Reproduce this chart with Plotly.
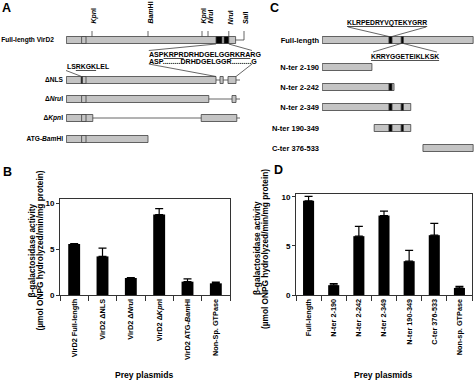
import plotly.graph_objects as go

# ---------------- data: bar charts ----------------
B_CATS = ["VirD2 Full-length", "VirD2 ΔNLS", "VirD2 Δ<i>Nru</i>I", "VirD2 Δ<i>Kpn</i>I",
          "VirD2 ATG-<i>Bam</i>HI", "Non-Sp. GTPase"]
B_VALS = [5.55, 4.2, 1.85, 8.75, 1.45, 1.27]
B_ERRS = [0.05, 0.9, 0.05, 0.65, 0.3, 0.13]

D_CATS = ["Full-length", "N-ter 2-190", "N-ter 2-242", "N-ter 2-349",
          "N-ter 190-349", "C-ter 376-533", "Non-sp. GTPase"]
D_VALS = [9.6, 1.0, 6.0, 8.1, 3.45, 6.1, 0.72]
D_ERRS = [0.45, 0.17, 1.0, 0.45, 1.1, 1.2, 0.15]

Y_TICKS = [0, 5, 10]

# ---------------- data: construct maps (residue units) ----------------
A_ROWS = ["Full-length VirD2" + "\u00a0" * 5, "ΔNLS", "Δ<i>Nru</i>I", "Δ<i>Kpn</i>I", "ATG-<i>Bam</i>HI"]
A_GREY = [[(1, 424)], [(1, 375), (385, 393), (405, 425)], [(1, 357), (415, 425)],
          [(1, 67), (338, 427)], [(1, 205)]]
A_MOTIF = [[(39, 50)], [(39, 50)], [(39, 50)], [(39, 50)], [(39, 50)]]
A_BLACK = [[(375, 390), (395, 407)], [(38, 41)], [], [], []]
A_LINKS = [[(424, 445)], [(375, 385), (393, 405), (425, 435)], [(357, 415), (425, 435)],
           [(67, 338), (427, 435)], []]
A_SITES = ["<i>Kpn</i>I", "<i>Bam</i>HI", "<i>Kpn</i>I", "<i>Nru</i>I", "<i>Nru</i>I", "<i>Sal</i>I"]
A_SITE_POS = [65, 205, 340, 355, 407, 445]
A_FULL_END = 424

C_ROWS = ["Full-length", "N-ter 2-190", "N-ter 2-242", "N-ter 2-349", "N-ter 190-349", "C-ter 376-533"]
C_GREY = [[(1, 533)], [(1, 176)], [(1, 254)], [(1, 313)], [(184, 313)], [(356, 533)]]
C_BLACK = [[(236, 247), (279, 287)], [], [(236, 247)], [(236, 247), (279, 287)],
           [(236, 247), (279, 287)], []]

# ---------------- layout constants ----------------
W, H = 474, 381
FONT = "Arial, 'Liberation Sans', Helvetica, sans-serif"
GREY = "#c4c4c4"
EDGE = "#404040"
INK = "#000000"
A_ROW_Y = [40, 80, 99, 118, 139]
C_ROW_Y = [40, 67, 87, 107, 128, 148]
BAR_H = 7


def px(x):
    return x / W


def py(y):
    return 1 - y / H


fig = go.Figure()

# ---------------- bar charts ----------------
for cats, vals, errs, xa, ya, bw in [(B_CATS, B_VALS, B_ERRS, "x", "y", 0.42),
                                      (D_CATS, D_VALS, D_ERRS, "x2", "y2", 0.44)]:
    fig.add_trace(go.Bar(
        x=cats, y=vals, width=bw, xaxis=xa, yaxis=ya,
        marker=dict(color=INK, line=dict(width=0)),
        error_y=dict(type="data", symmetric=False, array=errs, arrayminus=[0] * len(errs),
                     color=INK, thickness=1.2, width=4, visible=True),
        hoverinfo="skip"))


# ---------------- construct diagrams ----------------
def seg_bar(rows_y, segs, xa, ya, color):
    ys, xs, bases = [], [], []
    for y, sl in zip(rows_y, segs):
        for s, e in sl:
            ys.append(y)
            xs.append(e - s)
            bases.append(s)
    return go.Bar(orientation="h", y=ys, x=xs, base=bases, width=BAR_H, xaxis=xa, yaxis=ya,
                  marker=dict(color=color, line=dict(color=EDGE, width=0.8)), hoverinfo="skip")


def polyline(pairs, xa, ya, color=EDGE, w=0.8):
    xs, ys = [], []
    for pts in pairs:
        for (x, y) in pts:
            xs.append(x)
            ys.append(y)
        xs.append(None)
        ys.append(None)
    return go.Scatter(x=xs, y=ys, mode="lines", xaxis=xa, yaxis=ya,
                      line=dict(color=color, width=w), hoverinfo="skip")


# panel A links
link_pts = []
for y, ll in zip(A_ROW_Y, A_LINKS):
    for s, e in ll:
        link_pts.append([(s, y), (e, y)])
fig.add_trace(polyline(link_pts, "x3", "y3"))
fig.add_trace(seg_bar(A_ROW_Y, A_GREY, "x3", "y3", GREY))
fig.add_trace(seg_bar(A_ROW_Y, A_MOTIF, "x3", "y3", GREY))
fig.add_trace(seg_bar(A_ROW_Y, A_BLACK, "x3", "y3", INK))

# restriction site ticks
top_row = A_ROW_Y[0]
site_pts = []
for p in A_SITE_POS:
    low = top_row - BAR_H / 2 if p <= A_FULL_END else top_row
    site_pts.append([(p, low), (p, 31)])
fig.add_trace(polyline(site_pts, "x3", "y3"))

# expansion lines in A
fig.add_trace(polyline([
    [(375, 44), (207, 50.5)], [(407, 44), (465, 50.5)],
    [(207, 64), (375, 76.5)], [(465, 64), (425, 76.5)],
    [(0, 70.5), (39, 76.5)],
], "x3", "y3"))

# panel C
fig.add_trace(seg_bar(C_ROW_Y, C_GREY, "x4", "y4", GREY))
fig.add_trace(seg_bar(C_ROW_Y, C_BLACK, "x4", "y4", INK))
fig.add_trace(polyline([
    [(92, 27), (236, 36.5)], [(367, 27), (247, 36.5)],
    [(279, 43.5), (180, 52)], [(287, 43.5), (405, 52)],
], "x4", "y4"))

ann = []
bold = dict(family=FONT, color=INK, weight="bold")


def A(text, x, y, size, xref="paper", yref="paper", xanchor="center", yanchor="middle", angle=0):
    ann.append(dict(text=text, x=x, y=y, xref=xref, yref=yref, xanchor=xanchor, yanchor=yanchor,
                    textangle=angle, showarrow=False, font=dict(bold, size=size),
                    borderpad=0))


# panel letters
A("A", px(6), py(8), 12.5)
A("B", px(7), py(172), 12.5)
A("C", px(274), py(8), 12.5)
A("D", px(278), py(170), 12.5)

# site labels
for name, p in zip(A_SITES, A_SITE_POS):
    A(name, p + 4, 25, 7, xref="x3", yref="y3", yanchor="bottom", angle=-90)

# sequences
A("ASP<u>KRPR</u>DRHDGELGG<u>RKRA</u>RG", 206, 55, 7.1, xref="x3", yref="y3", xanchor="left")
A("ASP.........DRHDGELGGR..........G", 206, 61.5, 7.1, xref="x3", yref="y3", xanchor="left")
A("LS<u>RKGK</u>LEL", 0, 66, 6.9, xref="x3", yref="y3", xanchor="left")
A("<u>KLRPEDRYVQTEKYGRR</u>", 229, 23, 6.8, xref="x4", yref="y4")
A("<u>KRRYGGETEIKLKSK</u>", 293, 56, 6.8, xref="x4", yref="y4")

# axis titles
A("β-galactosidase activity", px(31.5), py(250), 8.3, angle=-90)
A("(µmol ONPG hydrolyzed/min/mg protein)", px(39.5), py(251), 8.3, angle=-90)
A("β-galactosidase activity", px(257), py(248), 8.3, angle=-90)
A("(µmol ONPG hydrolyzed/min/mg protein)", px(265), py(249), 8.3, angle=-90)
A("Prey plasmids", px(144), py(375), 8.6)
A("Prey plasmids", px(383), py(375), 8.6)

frame = dict(showline=True, linecolor="#333333", linewidth=1, mirror=True,
             showgrid=False, zeroline=False)
xcat = dict(type="category", tickangle=-90, ticks="outside", tickson="boundaries", ticklen=5,
            tickcolor="#333333", tickfont=dict(family=FONT, size=7.3, color=INK, weight="bold"),
            automargin=False, fixedrange=True, **frame)
ynum = dict(tickvals=Y_TICKS, ticks="outside", ticklen=3, tickcolor="#333333",
            tickfont=dict(family=FONT, size=8, color=INK, weight="bold"), automargin=False, **frame)

diag_font = dict(family=FONT, color=INK, weight="bold")
diag_y = dict(showgrid=False, zeroline=False, showline=False, ticks="", automargin=False,
              autorange=False)

fig.update_layout(
    template="none",
    width=W, height=H, margin=dict(l=0, r=0, t=0, b=0, pad=0),
    paper_bgcolor="white", plot_bgcolor="rgba(0,0,0,0)",
    showlegend=False, barmode="overlay", hovermode=False,
    font=dict(family=FONT, color=INK),
    xaxis=dict(domain=[px(60), px(230)], anchor="y", **xcat),
    yaxis=dict(ynum, domain=[py(295), py(199)], anchor="x", range=[0, 10.45]),
    xaxis2=dict(domain=[px(296), px(472)], anchor="y2", **xcat),
    yaxis2=dict(ynum, domain=[py(295), py(194)], anchor="x2", range=[0, 10.3]),
    xaxis3=dict(domain=[px(66), px(260)], range=[0, 485], anchor="y3", visible=False),
    yaxis3=dict(diag_y, domain=[py(160), 1], range=[160, 0], anchor="x3",
                tickvals=A_ROW_Y, ticktext=A_ROWS, tickfont=dict(diag_font, size=6.6),
                ticklabelstandoff=2),
    xaxis4=dict(domain=[px(322), 1], range=[0, 536], anchor="y4", visible=False),
    yaxis4=dict(diag_y, domain=[py(160), 1], range=[160, 0], anchor="x4",
                tickvals=C_ROW_Y, ticktext=C_ROWS, tickfont=dict(diag_font, size=7.5),
                ticklabelstandoff=2),
    annotations=ann,
)

fig.write_html("out.html", config={"displayModeBar": False},
               post_script="document.body.style.margin='0';document.body.style.padding='0';")
